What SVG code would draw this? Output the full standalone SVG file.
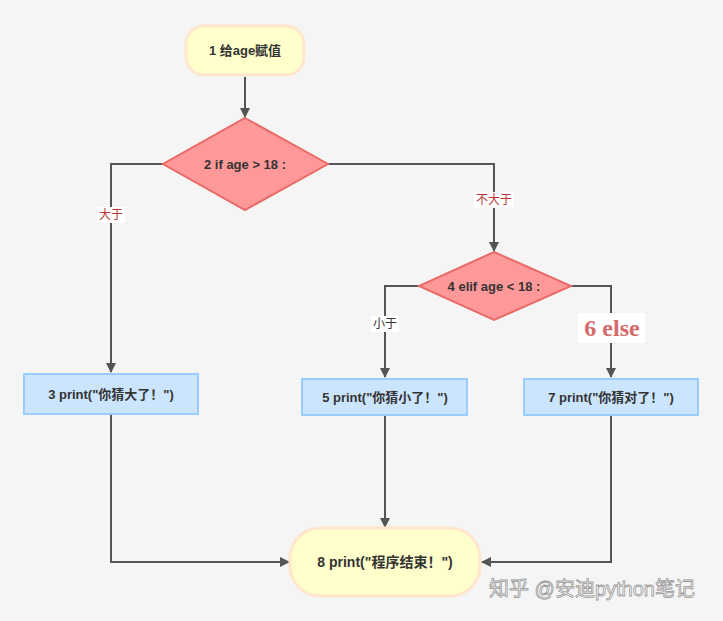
<svg xmlns="http://www.w3.org/2000/svg" width="723" height="621" viewBox="0 0 723 621">
<style>
text{font-family:"Liberation Sans","Noto Sans CJK SC",sans-serif;font-size:13px;font-weight:bold;fill:#333;text-anchor:middle;dominant-baseline:central}
.term{fill:#ffffcc;stroke:#ffe6cc;stroke-width:3}
.dec{fill:#ff9999;stroke:#ea6b66;stroke-width:2}
.proc{fill:#cce5ff;stroke:#99ccff;stroke-width:2}
.c{fill:none;stroke:#555;stroke-width:2;marker-end:url(#a)}
.lbl{font-weight:normal;font-size:12px;fill:#b33}
</style>
<defs><marker id="a" viewBox="0 0 10 10" refX="9" refY="5" markerWidth="5" markerHeight="5" orient="auto"><path d="M0,0L10,5L0,10z" fill="#555"/></marker></defs>
<rect width="723" height="621" fill="#f5f5f5"/>
<g id="connectors">
<path class="c" d="M245,77V117"/>
<path class="c" d="M163,164H111V372"/>
<path class="c" d="M328,164H494V251"/>
<path class="c" d="M419,286H385V377"/>
<path class="c" d="M571,286H611V377"/>
<path class="c" d="M111,415V562H289"/>
<path class="c" d="M385,416V527"/>
<path class="c" d="M611,416V562H482"/>
<rect x="97" y="207" width="28" height="16" fill="#fff"/><text class="lbl" x="111" y="215">大于</text>
<rect x="474" y="192" width="40" height="16" fill="#fff"/><text class="lbl" x="494" y="200">不大于</text>
<rect x="371" y="316" width="28" height="16" fill="#fff"/><text class="lbl" x="385" y="324" style="fill:#333">小于</text>
<rect x="578" y="313" width="67" height="30" fill="#fff"/><text x="612" y="328" style="font-family:'Liberation Serif','DejaVu Serif',serif;font-size:24px;fill:#d46a6a">6 else</text>
</g>
<g id="n1"><rect class="term" x="186" y="26" width="118" height="49" rx="18"/><text x="245" y="50">1   给age赋值</text></g>
<g id="n2"><polygon class="dec" points="245,118 328,164 245,210 163,164"/><text x="245" y="164">2    if age &gt; 18 :</text></g>
<g id="n3"><rect class="proc" x="24" y="374" width="174" height="40"/><text x="111" y="394">3   print("你猜大了！")</text></g>
<g id="n4"><polygon class="dec" points="494,252 571,286 494,320 419,286"/><text x="494" y="286">4 elif age &lt; 18 :</text></g>
<g id="n5"><rect class="proc" x="302" y="379" width="165" height="36"/><text x="385" y="397">5  print("你猜小了！")</text></g>
<g id="n7"><rect class="proc" x="524" y="379" width="174" height="36"/><text x="611" y="397">7   print("你猜对了！")</text></g>
<g id="n8"><rect class="term" x="290" y="528" width="190" height="68" rx="30"/><text x="385" y="562" style="font-size:14px">8    print("程序结束！")</text></g>
<text x="592" y="589" style="font-size:20px;font-weight:normal;fill:#fff;stroke:#999;stroke-width:0.8">知乎 @安迪python笔记</text>
</svg>
